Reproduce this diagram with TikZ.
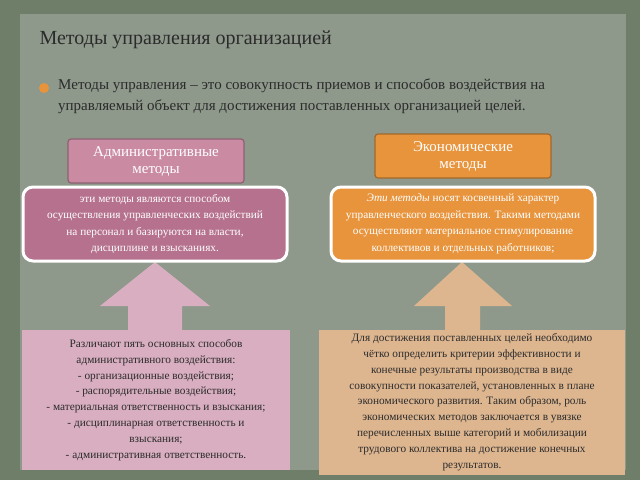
\documentclass[tikz,border=0pt]{standalone}
\usepackage{fontspec}
\setmainfont{Liberation Serif}
\usetikzlibrary{positioning}
\definecolor{frame}{HTML}{6F7E68}
\definecolor{panel}{HTML}{8E998B}
\definecolor{adm}{HTML}{C98AA2}
\definecolor{admdark}{HTML}{B5718D}
\definecolor{admlight}{HTML}{D8AEC0}
\definecolor{eco}{HTML}{E8943C}
\definecolor{ecolight}{HTML}{DDB690}
\definecolor{ink}{HTML}{2B2B2B}
\tikzset{
  head/.style={draw=#1!70!black, line width=1.2pt, rounded corners=3pt, minimum width=176pt, minimum height=44pt, align=center, text=white, font=\fontsize{15}{17}\selectfont},
  desc/.style={draw=white, line width=3pt, rounded corners=10pt, minimum width=264pt, minimum height=74pt, align=center, text=white, font=\fontsize{11.3}{16.5}\selectfont},
  base/.style={minimum width=268pt, minimum height=140pt, align=center, text=ink, font=\fontsize{11.3}{15.8}\selectfont},
}
\begin{document}
\begin{tikzpicture}[x=1pt,y=-1pt]
	%BACKGROUND
	\fill[frame] (0,0) rectangle (640,480);
	\fill[panel] (20,14) rectangle (626,470);
	\useasboundingbox (0,0) rectangle (640,480);
	
	%TITLE
	\node[anchor=west, text=ink, font=\fontsize{20}{22}\selectfont] (title) at (36,40) {Методы управления организацией};
	\fill[eco] (44,88) circle (5);
	\node[anchor=north west, align=left, text=ink, font=\fontsize{15}{21}\selectfont, inner sep=0pt] (intro) at (58,79)
	  {Методы управления -- это совокупность приемов и способов воздействия на\\
	   управляемый объект для достижения поставленных организацией целей.};
	
	%ARROWS
	\fill[admlight] (155,262) -- (210,306) -- (182,306) -- (182,332) -- (128,332) -- (128,306) -- (100,306) -- cycle;
	\fill[ecolight] (462,262) -- (512,306) -- (480,306) -- (480,332) -- (445,332) -- (445,306) -- (414,306) -- cycle;
	
	%ADMINISTRATIVE
	\node[head=adm, fill=adm] (admhead) at (156,161) {Административные\\методы};
	\node[desc, fill=admdark] (admdesc) at (155,224) {эти методы являются способом\\осуществления управленческих воздействий\\на персонал и базируются на власти,\\дисциплине и взысканиях.};
	\node[base, fill=admlight] (admbase) at (156,400) {Различают пять основных способов\\административного воздействия:\\- организационные воздействия;\\- распорядительные воздействия;\\- материальная ответственность и взыскания;\\- дисциплинарная ответственность и\\взыскания;\\- административная ответственность.};
	
	%ECONOMIC
	\node[head=eco, fill=eco] (ecohead) at (463,156) {Экономические\\методы};
	\node[desc, fill=eco] (ecodesc) at (463,224) {\textit{Эти методы} носят косвенный характер\\управленческого воздействия. Такими методами\\осуществляют материальное стимулирование\\коллективов и отдельных работников;};
	\node[base, fill=ecolight, minimum width=306pt, minimum height=145pt] (ecobase) at (472,402) {Для достижения поставленных целей необходимо\\чётко определить критерии эффективности и\\конечные результаты производства в виде\\совокупности показателей, установленных в плане\\экономического развития. Таким образом, роль\\экономических методов заключается в увязке\\перечисленных выше категорий и мобилизации\\трудового коллектива на достижение конечных\\результатов.};
\end{tikzpicture}
\end{document}
